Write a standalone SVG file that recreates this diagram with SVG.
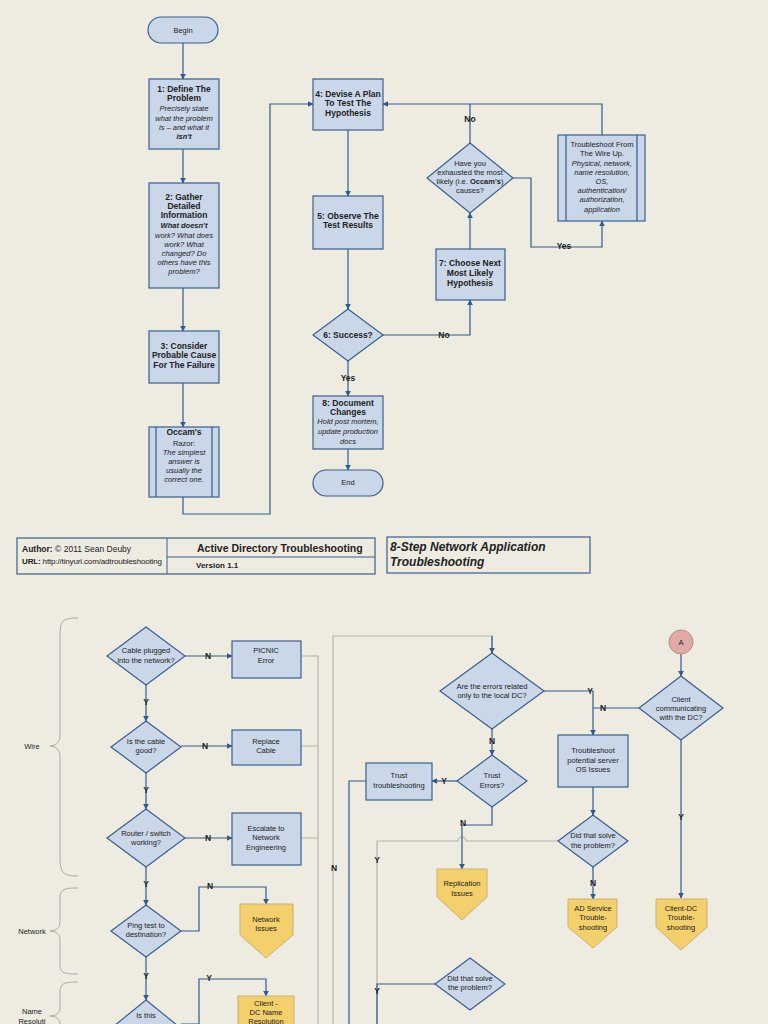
<svg xmlns="http://www.w3.org/2000/svg" width="768" height="1024" viewBox="0 0 768 1024">
<defs>
<marker id="ar" viewBox="0 0 10 10" refX="9" refY="5" markerWidth="5" markerHeight="5" orient="auto"><path d="M0,0L10,5L0,10z" fill="#2f5a8f"/></marker>
<style>
text{font-family:"Liberation Sans",Arial,sans-serif;fill:#222;text-anchor:middle}
.n{fill:#c9d7e8;stroke:#3a5f8f;stroke-width:1.2}
.y{fill:#f3d06c;stroke:#c9b070;stroke-width:1}
.c{fill:none;stroke:#2f5a8f;stroke-width:1.2}
.g{fill:none;stroke:#b4b4ae;stroke-width:1.2}
.br{fill:none;stroke:#aaa;stroke-width:1}
.b{font-size:8.5px;font-weight:bold}
.i{font-size:7.5px;font-style:italic}
.s{font-size:7.5px}
.l{font-size:8.5px;font-weight:bold}
</style>
</defs>
<rect width="768" height="1024" fill="#eeebe1"/>
<g id="connectors">
<path class="c" d="M183,43V79" marker-end="url(#ar)"/>
<path class="c" d="M183,149V183" marker-end="url(#ar)"/>
<path class="c" d="M183,288V331" marker-end="url(#ar)"/>
<path class="c" d="M183,383V427" marker-end="url(#ar)"/>
<path class="c" d="M183,497V514H270V104H313" marker-end="url(#ar)"/>
<path class="c" d="M348,130V196" marker-end="url(#ar)"/>
<path class="c" d="M348,249V309" marker-end="url(#ar)"/>
<path class="c" d="M383,335H470V300" marker-end="url(#ar)"/>
<path class="c" d="M470,249V213" marker-end="url(#ar)"/>
<path class="c" d="M470,143V104" />
<path class="c" d="M602,135V104H383" marker-end="url(#ar)"/>
<path class="c" d="M513,178H531V247H602V221" marker-end="url(#ar)"/>
<path class="c" d="M348,361V396" marker-end="url(#ar)"/>
<path class="c" d="M348,449V470" marker-end="url(#ar)"/>
<path class="c" d="M185,656H232" marker-end="url(#ar)"/>
<path class="c" d="M146,685V721" marker-end="url(#ar)"/>
<path class="c" d="M181,746H232" marker-end="url(#ar)"/>
<path class="c" d="M146,773V809" marker-end="url(#ar)"/>
<path class="c" d="M185,838H232" marker-end="url(#ar)"/>
<path class="c" d="M146,867V905" marker-end="url(#ar)"/>
<path class="c" d="M181,931H199V887H266V904" marker-end="url(#ar)"/>
<path class="c" d="M146,957V1000" marker-end="url(#ar)"/>
<path class="c" d="M181,1024H199V979H266V996" marker-end="url(#ar)"/>
<path class="g" d="M301,656H318V1024M301,746H318M301,838H318"/>
<path class="g" d="M333,1024V636H492V653" />
<path class="c" d="M492,636V653" marker-end="url(#ar)"/>
<path class="c" d="M544,691H593V735" marker-end="url(#ar)"/>
<path class="c" d="M639,708H593"/>
<path class="c" d="M681,654V676" marker-end="url(#ar)"/>
<path class="c" d="M681,740V898" marker-end="url(#ar)"/>
<path class="c" d="M593,787V815" marker-end="url(#ar)"/>
<path class="c" d="M593,867V899" marker-end="url(#ar)"/>
<path class="g" d="M558,841H466A4,4 0 0 0 458,841H377V1024"/>
<path class="c" d="M492,729V755" marker-end="url(#ar)"/>
<path class="c" d="M457,781H432" marker-end="url(#ar)"/>
<path class="c" d="M366,781H349V1024"/>
<path class="c" d="M492,807V825H462V869" marker-end="url(#ar)"/>
<path class="c" d="M435,984H377V1024"/>
<path class="br" d="M78,618C60,618 60,622 60,640V735C60,742 56,746 50,746C56,746 60,750 60,757V855C60,872 62,876 78,876"/>
<path class="br" d="M78,888C62,888 60,890 60,900V922C60,928 56,931 50,931C56,931 60,934 60,940V964C60,972 62,974 78,974"/>
<path class="br" d="M78,982C62,982 60,984 60,994V1008C60,1013 56,1016 50,1016C56,1016 60,1019 60,1024"/>
</g>
<g id="labels">
<text class="l" x="470" y="122">No</text>
<text class="l" x="564" y="249">Yes</text>
<text class="l" x="444" y="338">No</text>
<text class="l" x="348" y="381">Yes</text>
<text class="l" x="208" y="659">N</text>
<text class="l" x="146" y="705">Y</text>
<text class="l" x="205" y="749">N</text>
<text class="l" x="146" y="793">Y</text>
<text class="l" x="208" y="841">N</text>
<text class="l" x="146" y="887">Y</text>
<text class="l" x="210" y="889">N</text>
<text class="l" x="146" y="979">Y</text>
<text class="l" x="209" y="981">Y</text>
<text class="l" x="334" y="871">N</text>
<text class="l" x="590" y="694">Y</text>
<text class="l" x="603" y="711">N</text>
<text class="l" x="492" y="744">N</text>
<text class="l" x="444" y="784">Y</text>
<text class="l" x="463" y="826">N</text>
<text class="l" x="593" y="886">N</text>
<text class="l" x="681" y="820">Y</text>
<text class="l" x="377" y="863">Y</text>
<text class="l" x="377" y="994">Y</text>
<text class="s" x="32" y="749">Wire</text>
<text class="s" x="32" y="934">Network</text>
<text class="s" x="32" y="1014">Name</text>
<text class="s" x="32" y="1024">Resoluti</text>
</g>
<g id="begin"><rect class="n" x="148" y="17" width="70" height="26" rx="13" stroke="#8aa"/><text class="s" x="183" y="33">Begin</text></g>
<g id="step1"><rect class="n" x="149" y="79" width="70" height="70"/><text class="b" x="184" y="92">1: Define The</text><text class="b" x="184" y="101">Problem</text><text class="i" x="184" y="111">Precisely state</text><text class="i" x="184" y="121">what the problem</text><text class="i" x="184" y="130">is – and what it</text><text class="i" x="184" y="139" font-weight="bold">isn't</text></g>
<g id="step2"><rect class="n" x="149" y="183" width="70" height="105"/><text class="b" x="184" y="200">2: Gather</text><text class="b" x="184" y="209">Detailed</text><text class="b" x="184" y="218">Information</text><text class="i" x="184" y="228" font-weight="bold">What doesn't</text><text class="i" x="184" y="238">work? What does</text><text class="i" x="184" y="247">work? What</text><text class="i" x="184" y="256">changed? Do</text><text class="i" x="184" y="265">others have this</text><text class="i" x="184" y="274">problem?</text></g>
<g id="step3"><rect class="n" x="149" y="331" width="70" height="52"/><text class="b" x="184" y="349">3: Consider</text><text class="b" x="184" y="358">Probable Cause</text><text class="b" x="184" y="368">For The Failure</text></g>
<g id="occam"><rect class="n" x="149" y="427" width="70" height="70"/><path class="c" d="M156,427V497M212,427V497"/><text class="b" x="184" y="435">Occam's</text><text class="s" x="184" y="446">Razor:</text><text class="i" x="184" y="455">The simplest</text><text class="i" x="184" y="464">answer is</text><text class="i" x="184" y="473">usually the</text><text class="i" x="184" y="482">correct one.</text></g>
<g id="step4"><rect class="n" x="313" y="79" width="70" height="51"/><text class="b" x="348" y="97">4: Devise A Plan</text><text class="b" x="348" y="106">To Test The</text><text class="b" x="348" y="116">Hypothesis</text></g>
<g id="step5"><rect class="n" x="313" y="196" width="70" height="53"/><text class="b" x="348" y="219">5: Observe The</text><text class="b" x="348" y="228">Test Results</text></g>
<g id="step6"><path class="n" d="M348,309L383,335L348,361L313,335z"/><text class="b" x="348" y="338">6: Success?</text></g>
<g id="step7"><rect class="n" x="436" y="249" width="69" height="51"/><text class="b" x="470" y="266">7: Choose Next</text><text class="b" x="470" y="276">Most Likely</text><text class="b" x="470" y="286">Hypothesis</text></g>
<g id="exhausted"><path class="n" d="M470,143L513,178L470,213L427,178z"/><text class="s" x="470" y="166">Have you</text><text class="s" x="470" y="175">exhausted the most</text><text class="s" x="470" y="184">likely (i.e. <tspan font-weight="bold">Occam's</tspan>)</text><text class="s" x="470" y="193">causes?</text></g>
<g id="wireup"><rect class="n" x="558" y="135" width="87" height="86"/><path class="c" d="M566,135V221M637,135V221"/><text class="s" x="602" y="147">Troubleshoot From</text><text class="s" x="602" y="156">The Wire Up.</text><text class="i" x="602" y="166">Physical, network,</text><text class="i" x="602" y="175">name resolution,</text><text class="i" x="602" y="184">OS,</text><text class="i" x="602" y="193">authentication/</text><text class="i" x="602" y="202">authorization,</text><text class="i" x="602" y="212">application</text></g>
<g id="step8"><rect class="n" x="313" y="396" width="70" height="53"/><text class="b" x="348" y="406">8: Document</text><text class="b" x="348" y="415">Changes</text><text class="i" x="348" y="424">Hold post mortem,</text><text class="i" x="348" y="434">update production</text><text class="i" x="348" y="444">docs</text></g>
<g id="end"><rect class="n" x="313" y="470" width="70" height="26" rx="13" stroke="#8aa"/><text class="s" x="348" y="485">End</text></g>
<g id="footer">
<rect x="17" y="538" width="358" height="36" fill="none" stroke="#3a5f8f" stroke-width="1.2"/>
<path d="M167,538V574M167,557H375" stroke="#3a5f8f" stroke-width="1"/>
<text x="22" y="552" font-size="8.5" style="text-anchor:start"><tspan font-weight="bold">Author:</tspan> © 2011 Sean Deuby</text>
<text x="22" y="564" font-size="8" style="text-anchor:start" textLength="140"><tspan font-weight="bold">URL:</tspan> http://tinyurl.com/adtroubleshooting</text>
<text x="197" y="552" font-size="10.5" font-weight="bold" style="text-anchor:start">Active Directory Troubleshooting</text>
<text x="196" y="568" font-size="8" font-weight="bold" style="text-anchor:start">Version 1.1</text>
<rect x="387" y="537" width="203" height="36" fill="none" stroke="#3a5f8f" stroke-width="1.2"/>
<text x="390" y="551" font-size="12" font-weight="bold" font-style="italic" style="text-anchor:start">8-Step Network Application</text>
<text x="390" y="566" font-size="12" font-weight="bold" font-style="italic" style="text-anchor:start">Troubleshooting</text>
</g>
<g id="cable"><path class="n" d="M146,627L185,656L146,685L107,656z"/><text class="s" x="146" y="653">Cable plugged</text><text class="s" x="146" y="663">into the network?</text></g>
<g id="picnic"><rect class="n" x="232" y="641" width="69" height="37"/><text class="s" x="266" y="653">PICNIC</text><text class="s" x="266" y="663">Error</text></g>
<g id="cablegood"><path class="n" d="M146,721L181,747L146,773L111,747z"/><text class="s" x="146" y="744">Is the cable</text><text class="s" x="146" y="753">good?</text></g>
<g id="replace"><rect class="n" x="232" y="730" width="69" height="35"/><text class="s" x="266" y="744">Replace</text><text class="s" x="266" y="753">Cable</text></g>
<g id="router"><path class="n" d="M146,809L185,838L146,867L107,838z"/><text class="s" x="146" y="836">Router / switch</text><text class="s" x="146" y="845">working?</text></g>
<g id="escalate"><rect class="n" x="232" y="813" width="69" height="52"/><text class="s" x="266" y="831">Escalate to</text><text class="s" x="266" y="840">Network</text><text class="s" x="266" y="850">Engineering</text></g>
<g id="ping"><path class="n" d="M146,905L181,931L146,957L111,931z"/><text class="s" x="146" y="928">Ping test to</text><text class="s" x="146" y="937">destination?</text></g>
<g id="netissues"><path class="y" d="M240,904H293V935L266,958L240,935z"/><text class="s" x="266" y="922">Network</text><text class="s" x="266" y="931">Issues</text></g>
<g id="isthis"><path class="n" d="M146,1000L183,1030L146,1060L109,1030z"/><text class="s" x="146" y="1018">Is this</text></g>
<g id="clientdcname"><rect class="y" x="238" y="996" width="56" height="40"/><text class="s" x="266" y="1006">Client -</text><text class="s" x="266" y="1015">DC Name</text><text class="s" x="266" y="1024">Resolution</text></g>
<g id="errors"><path class="n" d="M492,653L544,691L492,729L440,691z"/><text class="s" x="492" y="689">Are the errors related</text><text class="s" x="492" y="698">only to the local DC?</text></g>
<g id="trusterr"><path class="n" d="M492,755L527,781L492,807L457,781z"/><text class="s" x="492" y="778">Trust</text><text class="s" x="492" y="788">Errors?</text></g>
<g id="trustts"><rect class="n" x="366" y="763" width="66" height="37"/><text class="s" x="399" y="778">Trust</text><text class="s" x="399" y="788">troubleshooting</text></g>
<g id="replication"><path class="y" d="M437,869H487V897L462,920L437,897z"/><text class="s" x="462" y="886">Replication</text><text class="s" x="462" y="896">Issues</text></g>
<g id="serveros"><rect class="n" x="558" y="735" width="70" height="52"/><text class="s" x="593" y="753">Troubleshoot</text><text class="s" x="593" y="763">potential server</text><text class="s" x="593" y="772">OS Issues</text></g>
<g id="solve1"><path class="n" d="M593,815L628,841L593,867L558,841z"/><text class="s" x="593" y="838">Did that solve</text><text class="s" x="593" y="848">the problem?</text></g>
<g id="adservice"><path class="y" d="M568,899H617V927L593,948L568,927z"/><text class="s" x="593" y="911">AD Service</text><text class="s" x="593" y="920">Trouble-</text><text class="s" x="593" y="930">shooting</text></g>
<g id="a"><circle cx="681" cy="642" r="12" fill="#e0aaa6" stroke="#b88" stroke-width="1"/><text class="s" x="681" y="645" font-size="6.5">A</text></g>
<g id="clientcomm"><path class="n" d="M681,676L723,708L681,740L639,708z"/><text class="s" x="681" y="702">Client</text><text class="s" x="681" y="711">communicating</text><text class="s" x="681" y="720">with the DC?</text></g>
<g id="clientdcts"><path class="y" d="M656,899H707V927L681,950L656,927z"/><text class="s" x="681" y="911">Client-DC</text><text class="s" x="681" y="920">Trouble-</text><text class="s" x="681" y="930">shooting</text></g>
<g id="solve2"><path class="n" d="M470,958L505,984L470,1010L435,984z"/><text class="s" x="470" y="981">Did that solve</text><text class="s" x="470" y="990">the problem?</text></g>
</svg>
